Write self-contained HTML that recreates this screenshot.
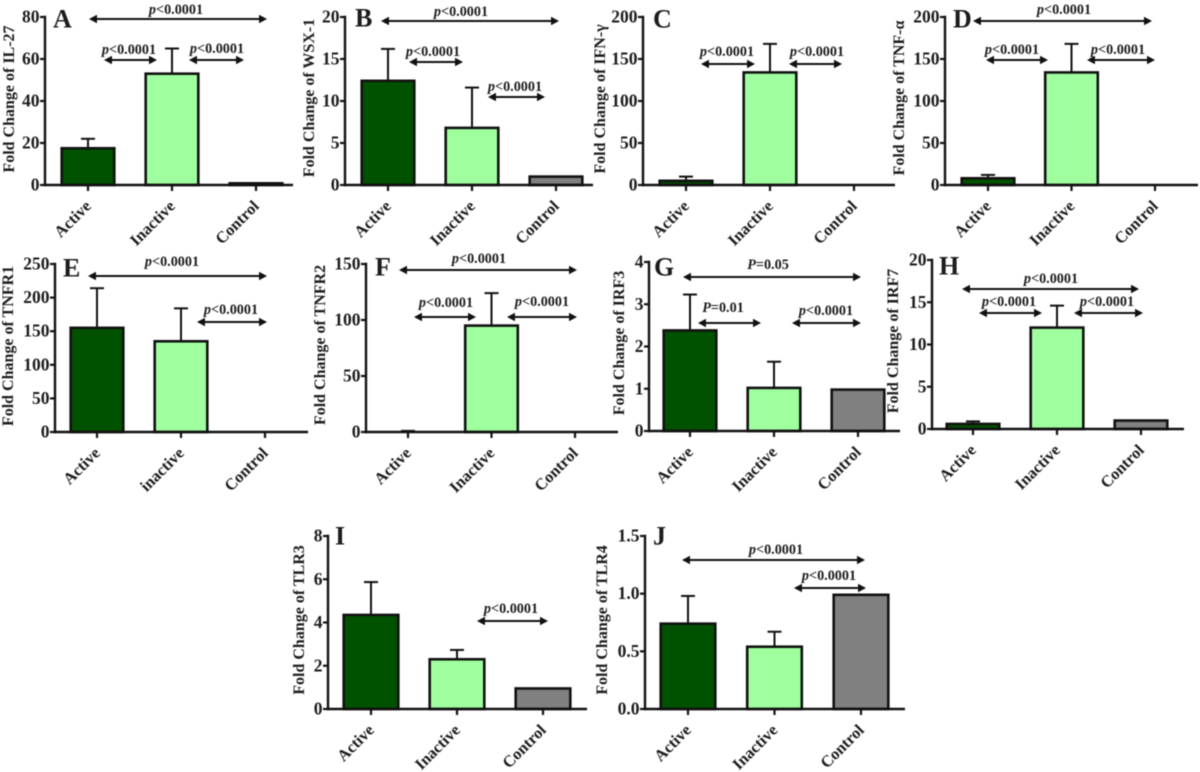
<!DOCTYPE html>
<html lang="en">
<head>
<meta charset="utf-8">
<title>Fold change bar charts</title>
<style>
html,body{margin:0;padding:0;background:#fff;width:1200px;height:772px;overflow:hidden}
svg{display:block;filter:blur(0.45px)}
text{font-family:"Liberation Serif",serif;font-weight:bold;fill:#1c1c1c}
</style>
</head>
<body>
<svg id="figure" width="1200" height="772" viewBox="0 0 1200 772" xmlns="http://www.w3.org/2000/svg"></svg>
<script>
// ---- data ----
const panelLetters = ['A','B','C','D','E','F','G','H','I','J'];
const yTitles = ['Fold Change of IL-27','Fold Change of WSX-1','Fold Change of IFN-γ','Fold Change of TNF-α','Fold Change of TNFR1','Fold Change of TNFR2','Fold Change of IRF3','Fold Change of IRF7','Fold Change of TLR3','Fold Change of TLR4'];
const categories = ['Active','Inactive','Control'];
const categoriesE = ['Active','inactive','Control'];

const ticksA = ['0','20','40','60','80'];
const ticksB = ['0','5','10','15','20'];
const ticksC = ['0','50','100','150','200'];
const ticksD = ['0','50','100','150','200'];
const ticksE = ['0','50','100','150','200','250'];
const ticksF = ['0','50','100','150'];
const ticksG = ['0','1','2','3','4'];
const ticksH = ['0','5','10','15','20'];
const ticksI = ['0','2','4','6','8'];
const ticksJ = ['0.0','0.5','1.0','1.5'];

const valuesA = [17.5, 53, 0.8];
const valuesB = [12.4, 6.8, 1];
const valuesC = [5, 134, 0];
const valuesD = [8, 134, 0];
const valuesE = [155, 135, 0];
const valuesF = [0, 95, 0];
const valuesG = [2.38, 1.02, 0.98];
const valuesH = [0.6, 12, 1];
const valuesI = [4.35, 2.3, 0.95];
const valuesJ = [0.74, 0.54, 0.99];

const errorTopsA = [22, 65, null];
const errorTopsB = [16.2, 11.6, null];
const errorTopsC = [10, 168, null];
const errorTopsD = [12, 168, null];
const errorTopsE = [214, 184, null];
const errorTopsF = [1, 124, null];
const errorTopsG = [3.23, 1.64, null];
const errorTopsH = [0.9, 14.6, null];
const errorTopsI = [5.87, 2.73, null];
const errorTopsJ = [0.98, 0.67, null];

const pLabelsA = ['p|<0.0001','p|<0.0001','p|<0.0001'];
const pLabelsB = ['p|<0.0001','p|<0.0001','p|<0.0001'];
const pLabelsC = ['p|<0.0001','p|<0.0001'];
const pLabelsD = ['p|<0.0001','p|<0.0001','p|<0.0001'];
const pLabelsE = ['p|<0.0001','p|<0.0001'];
const pLabelsF = ['p|<0.0001','p|<0.0001','p|<0.0001'];
const pLabelsG = ['P|=0.05','P|=0.01','p|<0.0001'];
const pLabelsH = ['p|<0.0001','p|<0.0001','p|<0.0001'];
const pLabelsI = ['p|<0.0001'];
const pLabelsJ = ['p|<0.0001','p|<0.0001'];

const allTicks = [ticksA,ticksB,ticksC,ticksD,ticksE,ticksF,ticksG,ticksH,ticksI,ticksJ];
const allValues = [valuesA,valuesB,valuesC,valuesD,valuesE,valuesF,valuesG,valuesH,valuesI,valuesJ];
const allErrors = [errorTopsA,errorTopsB,errorTopsC,errorTopsD,errorTopsE,errorTopsF,errorTopsG,errorTopsH,errorTopsI,errorTopsJ];
const allPLabels = [pLabelsA,pLabelsB,pLabelsC,pLabelsD,pLabelsE,pLabelsF,pLabelsG,pLabelsH,pLabelsI,pLabelsJ];
const allCategories = [categories,categories,categories,categories,categoriesE,categories,categories,categories,categories,categories];

// ---- layout (pixels, not data) ----
const frames = [
 {ax:45, top:17, base:185,end:293,first:88, step:84,  barW:55,titleX:9,  titleY:99, lx:53, ly:19},
 {ax:345,top:17, base:185,end:593,first:388,step:84,  barW:55,titleX:309,titleY:98, lx:355,ly:18},
 {ax:643,top:17, base:185,end:895,first:686,step:84,  barW:55,titleX:600,titleY:99, lx:653,ly:19},
 {ax:945,top:17, base:185,end:1198,first:988,step:83.5,barW:55,titleX:899,titleY:98,lx:953,ly:19},
 {ax:55, top:264,base:432,end:308,first:97, step:84,  barW:55,titleX:8,  titleY:346,lx:63, ly:268},
 {ax:366,top:264,base:432,end:618,first:408,step:83.5,barW:55,titleX:320,titleY:345,lx:375,ly:267},
 {ax:649,top:262,base:431,end:900,first:690,step:84,  barW:55,titleX:619,titleY:343,lx:654,ly:267},
 {ax:932,top:260,base:429,end:1184,first:973,step:84, barW:55,titleX:893,titleY:341,lx:939,ly:266},
 {ax:328,top:536,base:709,end:587,first:371,step:86,  barW:57,titleX:299,titleY:620,lx:335,ly:536},
 {ax:645,top:536,base:709,end:905,first:688,step:86.5,barW:57,titleX:602,titleY:620,lx:653,ly:536}
];
const arrowLayouts = [
 [{a:89,b:267,y:19,cx:176,my:9},{a:104,b:157,y:60,cx:129,my:49},{a:189,b:244,y:60,cx:217,my:48}],
 [{a:381,b:559,y:21,cx:461,my:11},{a:409,b:463,y:62,cx:433,my:51},{a:488,b:545,y:97,cx:515,my:86}],
 [{a:701,b:755,y:64,cx:727,my:51},{a:789,b:842,y:64,cx:817,my:51}],
 [{a:973,b:1152,y:21,cx:1064,my:9},{a:986,b:1048,y:60,cx:1012,my:49},{a:1087,b:1155,y:60,cx:1118,my:49}],
 [{a:88,b:267,y:276,cx:172,my:261},{a:197,b:267,y:322,cx:231,my:309}],
 [{a:399,b:577,y:270,cx:479,my:258},{a:414,b:476,y:317,cx:446,my:302},{a:507,b:577,y:317,cx:542,my:301}],
 [{a:683,b:861,y:277,cx:768,my:264},{a:698,b:761,y:323,cx:723,my:307},{a:792,b:861,y:323,cx:826,my:310}],
 [{a:962,b:1139,y:289,cx:1051,my:278},{a:979,b:1042,y:313,cx:1009,my:301},{a:1074,b:1143,y:313,cx:1107,my:301}],
 [{a:477,b:548,y:621,cx:511,my:608}],
 [{a:682,b:865,y:560,cx:776,my:549},{a:794,b:866,y:588,cx:829,my:575}]
];
const barFills = ['#005200','#9fff9f','#808080'];
const INK = '#111111';
const NS = 'http://www.w3.org/2000/svg';
const root = document.getElementById('figure');

function make(parent, tag, attrs, text) {
  const el = document.createElementNS(NS, tag);
  for (const k in attrs) el.setAttribute(k, attrs[k]);
  if (text !== undefined) el.textContent = text;
  parent.appendChild(el);
  return el;
}

function drawPanel(i) {
  const f = frames[i];
  const letter = panelLetters[i];
  const tickLabels = allTicks[i];
  const vals = allValues[i];
  const errs = allErrors[i];
  const cats = allCategories[i];
  const yMax = parseFloat(tickLabels[tickLabels.length - 1]);
  const yScale = v => f.base - (v / yMax) * (f.base - f.top);
  const xScale = c => f.first + c * f.step;

  const g = make(root, 'g', {});
  
  

  const letterEl = make(g, 'text', {x: f.lx, y: f.ly + 8.5, 'font-size': 26}, letter);
  
  

  const title = make(g, 'text', {x: 0, y: 0, 'font-size': 16, 'text-anchor': 'middle',
    transform: 'translate(' + (f.titleX + 5) + ' ' + f.titleY + ') rotate(-90)'}, yTitles[i]);
  
  

  // bars and error bars
  vals.forEach(function (v, c) {
    const cx = xScale(c);
    const yv = yScale(v);
    if (errs[c] !== null) {
      const ye = yScale(errs[c]);
      const stem = make(g, 'line', {x1: cx, x2: cx, y1: yv, y2: ye, stroke: INK, 'stroke-width': 2});
      
      
      const cap = make(g, 'line', {x1: cx - 7, x2: cx + 7, y1: ye, y2: ye, stroke: INK, 'stroke-width': 2});
      
      
    }
    if (v > 0) {
      const bar = make(g, 'rect', {x: cx - f.barW / 2 + 1.2, y: yv, width: f.barW - 2.4, height: Math.max(f.base - yv, 0),
        fill: barFills[c], stroke: INK, 'stroke-width': 2.6});
      
      
    }
  });

  // axes
  const yAxis = make(g, 'line', {x1: f.ax, x2: f.ax, y1: f.top - 1.2, y2: f.base + 1.2, stroke: INK, 'stroke-width': 2.4});
  
  
  const xAxis = make(g, 'line', {x1: f.ax - 1, x2: f.end, y1: f.base, y2: f.base, stroke: INK, 'stroke-width': 2.4});
  
  

  tickLabels.forEach(function (t) {
    const y = yScale(parseFloat(t));
    const tick = make(g, 'line', {x1: f.ax - 5, x2: f.ax, y1: y, y2: y, stroke: INK, 'stroke-width': 2.2});
    
    
    const lab = make(g, 'text', {x: f.ax - 5.5, y: y + 5.5, 'font-size': 17.5, 'text-anchor': 'end'}, t);
    
    
  });

  cats.forEach(function (name, c) {
    const cx = xScale(c);
    const tick = make(g, 'line', {x1: cx, x2: cx, y1: f.base, y2: f.base + 6, stroke: INK, 'stroke-width': 2.2});
    
    
    const lab = make(g, 'text', {x: 0, y: 0, 'font-size': 16.3, 'text-anchor': 'end',
      transform: 'translate(' + (cx + 4) + ' ' + (f.base + 22) + ') rotate(-45)'}, name);
    
    
  });

  // significance arrows
  arrowLayouts[i].forEach(function (a, k) {
    const arrow = make(g, 'g', {});
    
    
    make(arrow, 'line', {x1: a.a + 4, x2: a.b - 4, y1: a.y, y2: a.y, stroke: INK, 'stroke-width': 2});
    make(arrow, 'polygon', {points: a.a + ',' + a.y + ' ' + (a.a + 8) + ',' + (a.y - 4.2) + ' ' + (a.a + 8) + ',' + (a.y + 4.2), fill: INK});
    make(arrow, 'polygon', {points: a.b + ',' + a.y + ' ' + (a.b - 8) + ',' + (a.y - 4.2) + ' ' + (a.b - 8) + ',' + (a.y + 4.2), fill: INK});
    const parts = allPLabels[i][k].split('|');
    const label = make(g, 'text', {x: a.cx, y: a.my + 5, 'font-size': 14.2, 'text-anchor': 'middle', fill: '#333'});
    
    
    make(label, 'tspan', {'font-style': 'italic'}, parts[0]);
    make(label, 'tspan', {}, parts[1]);
  });
}

panelLetters.forEach(function (_, i) { drawPanel(i); });
</script>
</body>
</html>
